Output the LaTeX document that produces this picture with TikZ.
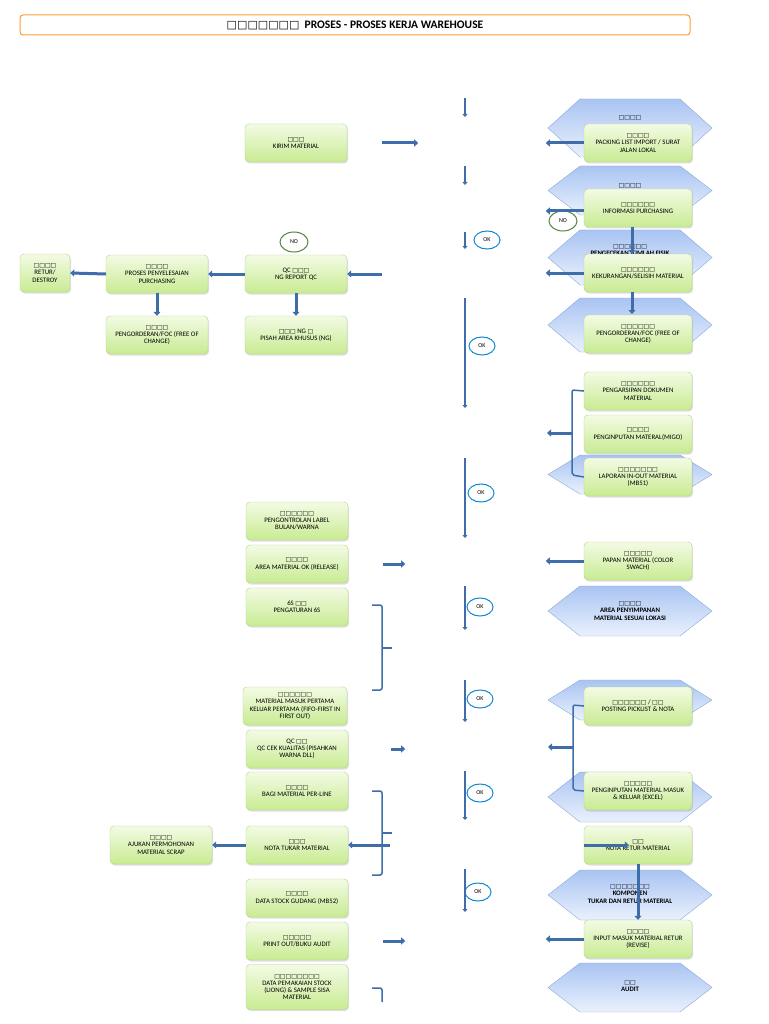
\documentclass[tikz,border=0pt]{standalone}
\usepackage{fontspec}
\setmainfont{Carlito}
\newfontfamily\sqf{DejaVu Sans}
\usetikzlibrary{arrows.meta,shadows}
\newcommand{\Q}[1]{{\sqf\fontsize{6}{7}\selectfont #1}}
\definecolor{ab}{HTML}{3F6DAA}
\definecolor{gtop}{HTML}{F3FBE4}
\definecolor{gbot}{HTML}{C8EB92}
\definecolor{gdraw}{HTML}{B2D58A}
\definecolor{htop}{HTML}{A9C4F2}
\definecolor{hbot}{HTML}{EAF1FD}
\definecolor{hdraw}{HTML}{8AAAD9}
\tikzset{
  x=1pt,y=-1pt,
  gbox/.style={rounded corners=4pt,draw=gdraw,top color=gtop,bottom color=gbot,minimum width=102pt,minimum height=38pt,align=center,font=\fontsize{6.8}{7.2}\selectfont,inner sep=1pt,drop shadow={opacity=0.25,shadow xshift=1pt,shadow yshift=-1.5pt}},
  hex/.style={draw=hdraw,top color=htop,bottom color=hbot},
  htxt/.style={align=center,font=\bfseries\fontsize{6.8}{7.2}\selectfont},
  arr/.style={draw=ab,line width=3pt,-{Triangle[length=4pt,width=7pt]}},
  varr/.style={draw=ab,line width=2pt,-{Triangle[length=3pt,width=5pt]}},
  ok/.style={draw=cyan!70!blue,line width=1pt,ellipse,minimum width=26pt,minimum height=18pt,inner sep=0pt,font=\fontsize{6}{7}\selectfont},
  no/.style={draw=gdraw!80!green!60!black,line width=1pt,ellipse,minimum width=28pt,minimum height=20pt,inner sep=0pt,font=\fontsize{6}{7}\selectfont},
  brk/.style={draw=ab,line width=1.5pt,rounded corners=2pt}
}
\usetikzlibrary{shapes.geometric}
\newcommand{\hexa}[3]{\path[hex] (548,{(#2+#3)/2}) -- (580,#2) -- (680,#2) -- (712,{(#2+#3)/2}) -- (680,#3) -- (580,#3) -- cycle;\coordinate (#1) at (630,{(#2+#3)/2});}
\begin{document}
\begin{tikzpicture}
\useasboundingbox (0,0) rectangle (768,1024);
\fill[white] (0,0) rectangle (768,1024);
% title
\node[draw=orange!80,line width=1pt,rounded corners=3pt,minimum width=670pt,minimum height=20pt,font=\bfseries\fontsize{11.5}{13}\selectfont] (title) at (355,25) {{\sqf\fontsize{11}{13}\selectfont □□□□□□□}\ \ PROSES - PROSES KERJA WAREHOUSE};
% hexagons
\hexa{h1}{99}{157}\node[htxt] at (630,118) {\Q{□□□□}};
\hexa{h2}{166}{215}\node[htxt] at (630,186) {\Q{□□□□}};
\hexa{h3}{230}{285}\node[htxt] at (630,250) {\Q{□□□□□□}\\[-1pt]PENGECEKAN JUMLAH FISIK};
\hexa{h4}{298}{352}
\hexa{h5}{455}{494}
\hexa{h6}{586}{636}\node[htxt] (h6t) at (630,611) {\Q{□□□□}\\AREA PENYIMPANAN\\MATERIAL SESUAI LOKASI};
\hexa{h7}{680}{720}
\hexa{h8}{772}{822}
\hexa{h9}{870}{920}\node[htxt] (h9t) at (630,894) {\Q{□□□□□□□}\\KOMPONEN\\TUKAR DAN RETUR MATERIAL};
\hexa{h10}{963}{1012}\node[htxt] (h10t) at (630,986) {\Q{□□}\\AUDIT};
% left / center boxes
\node[gbox] (kirim) at (296,143) {\Q{□□□}\\KIRIM MATERIAL};
\node[gbox] (qc) at (296,274) {QC \Q{□□□}\\NG REPORT QC};
\node[gbox] (pisah) at (296,335) {\Q{□□□} NG \Q{□}\\PISAH AREA KHUSUS (NG)};
\node[gbox] (pros) at (157,274) {\Q{□□□□}\\PROSES PENYELESAIAN\\PURCHASING};
\node[gbox] (pengl) at (157,335) {\Q{□□□□}\\PENGORDERAN/FOC (FREE OF\\CHANGE)};
\node[gbox,minimum width=50pt] (retur) at (45,273) {\Q{□□□□}\\RETUR/\\DESTROY};
\node[no] (no1) at (294,242) {NO};
\node[gbox] (pengon) at (297,521) {\Q{□□□□□□}\\PENGONTROLAN LABEL\\BULAN/WARNA};
\node[gbox] (areaok) at (297,564) {\Q{□□□□}\\AREA MATERIAL OK (RELEASE)};
\node[gbox] (six) at (297,607) {6S \Q{□□}\\PENGATURAN 6S};
\node[gbox,minimum width=104pt] (fifo) at (295,706) {\Q{□□□□□□}\\MATERIAL MASUK PERTAMA\\KELUAR PERTAMA (FIFO-FIRST IN\\FIRST OUT)};
\node[gbox] (qccek) at (297,749) {QC \Q{□□}\\QC CEK KUALITAS (PISAHKAN\\WARNA DLL)};
\node[gbox] (bagi) at (297,791) {\Q{□□□□}\\BAGI MATERIAL PER-LINE};
\node[gbox] (nota) at (297,845) {\Q{□□□}\\NOTA TUKAR MATERIAL};
\node[gbox] (ajukan) at (161,845) {\Q{□□□□}\\AJUKAN PERMOHONAN\\MATERIAL SCRAP};
\node[gbox] (dstock) at (297,898) {\Q{□□□□}\\DATA STOCK GUDANG (MB52)};
\node[gbox] (print) at (297,941) {\Q{□□□□□}\\PRINT OUT/BUKU AUDIT};
\node[gbox,minimum height=45pt] (pakai) at (297,987) {\Q{□□□□□□□□}\\DATA PEMAKAIAN STOCK\\(LIONG) \& SAMPLE SISA\\MATERIAL};
% right boxes
\node[gbox,minimum width=108pt] (pack) at (638,143) {\Q{□□□□}\\PACKING LIST IMPORT / SURAT\\JALAN LOKAL};
\node[gbox,minimum width=108pt] (info) at (638,208) {\Q{□□□□□□}\\INFORMASI PURCHASING};
\node[gbox,minimum width=108pt] (kurang) at (638,273) {\Q{□□□□□□}\\KEKURANGAN/SELISIH MATERIAL};
\node[gbox,minimum width=108pt] (pengr) at (638,334) {\Q{□□□□□□}\\PENGORDERAN/FOC (FREE OF\\CHANGE)};
\node[gbox,minimum width=108pt] (arsip) at (638,391) {\Q{□□□□□□}\\PENGARSIPAN DOKUMEN\\MATERIAL};
\node[gbox,minimum width=108pt] (migo) at (638,434) {\Q{□□□□}\\PENGINPUTAN MATERAL(MIGO)};
\node[gbox,minimum width=108pt] (lapor) at (638,477) {\Q{□□□□□□□}\\LAPORAN IN-OUT MATERIAL\\(MB51)};
\node[gbox,minimum width=108pt] (papan) at (638,561) {\Q{□□□□□}\\PAPAN MATERIAL (COLOR\\SWACH)};
\node[gbox,minimum width=108pt] (post) at (638,706) {\Q{□□□□□□} / \Q{□□}\\POSTING PICKLIST \& NOTA};
\node[gbox,minimum width=108pt] (excel) at (638,791) {\Q{□□□□□}\\PENGINPUTAN MATERIAL MASUK\\\& KELUAR (EXCEL)};
\node[gbox,minimum width=108pt] (nretur) at (638,845) {\Q{□□}\\NOTA RETUR MATERIAL};
\node[gbox,minimum width=108pt] (input) at (638,939) {\Q{□□□□}\\INPUT MASUK MATERIAL RETUR\\(REVISE)};
\node[no] (no2) at (563,221) {NO};
% OK ellipses
\node[ok] (ok1) at (487,240) {OK};
\node[ok] (ok2) at (482,346) {OK};
\node[ok] (ok3) at (481,493) {OK};
\node[ok] (ok4) at (480,607) {OK};
\node[ok] (ok5) at (480,699) {OK};
\node[ok] (ok6) at (480,793) {OK};
\node[ok] (ok7) at (478,892) {OK};
% vertical arrows middle
\foreach \a/\b in {98/117,166/185,232/249,298/408,458/538,586/630,680/722,771/820,869/912}
  \draw[varr] (465,\a) -- (465,\b);
% horizontal arrows
\draw[arr] ([xshift=35pt]kirim.east) -- ++(36,0);
\draw[arr] ([xshift=35pt]qc.east) -- (qc.east);
\draw[arr] (qc.west) -- (pros.east);
\draw[arr] (pros.west) -- (retur.east);
\draw[arr] (pros.south) -- (pengl.north);
\draw[arr] (qc.south) -- (pisah.north);
\draw[arr] (pack.west) -- ++(-38,0);
\draw[arr] ([yshift=-3pt]info.west) -- ++(-38,0);
\draw[arr] (kurang.west) -- ++(-38,0);
\draw[arr] (632,227) -- (632,254);
\draw[arr] (632,292) -- (632,314);
\draw[brk] (arsip.west) -- (572,390) -- (572,475) -- (lapor.west);
\draw[arr] (572,433) -- (547,433);
\draw[arr] ([xshift=35pt]areaok.east) -- ++(22,0);
\draw[arr] (papan.west) -- ++(-38,0);
\draw[brk] (372,605) -- (382,605) -- (382,690) -- (372,690);
\draw[brk] (382,648) -- (392,648);
\draw[arr] ([xshift=43pt]qccek.east) -- ++(14,0);
\draw[brk] (post.west) -- (573,705) -- (573,790) -- (excel.west);
\draw[arr] (573,747) -- (548,747);
\draw[brk] (372,791) -- (382,791) -- (382,875) -- (372,875);
\draw[brk] (382,833) -- (392,833);
\draw[arr] (390,845) -- (nota.east);
\draw[arr] (nota.west) -- (ajukan.east);
\draw[arr] (nretur.west) -- ++(45,0);
\draw[arr] (638,864) -- (input.north -| 638,0);
\draw[arr] (input.west) -- ++(-38,0);
\draw[arr] ([xshift=35pt]print.east) -- ++(22,0);
\draw[brk] (372,988) -- (382,988) -- (382,1002);
\end{tikzpicture}
\end{document}
